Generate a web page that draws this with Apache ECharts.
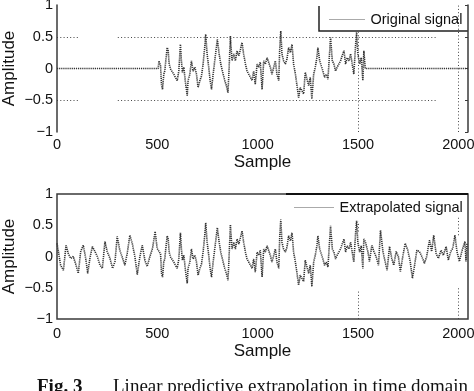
<!DOCTYPE html>
<html>
<head>
<meta charset="utf-8">
<script src="https://cdn.jsdelivr.net/npm/echarts@6/dist/echarts.min.js"></script>
<style>
html,body{margin:0;padding:0;background:#fff;}
#c{width:474px;height:391px;}
</style>
</head>
<body>
<div id="c"></div>
<script>
// ---- data ----
const xTickValues = [0, 500, 1000, 1500, 2000];
const yTickValues = [-1, -0.5, 0, 0.5, 1];
const yTickLabels = ['\u22121', '\u22120.5', '0', '0.5', '1'];

// segment of the signal shared by both plots (samples ~510..1535)
const midSamples = [508,516,521,526,532,537,542,549,554,559,566,574,582,590,599,607,615,620,625,632,640,649,653,662,670,678,687,695,703,712,720,728,736,741,748,756,763,770,778,786,794,799,808,816,828,836,844,852,857,864,872,881,889,897,906,914,922,930,939,947,955,964,972,980,988,997,1005,1013,1022,1030,1038,1047,1055,1063,1071,1080,1088,1096,1105,1110,1115,1121,1129,1138,1146,1154,1163,1171,1179,1188,1196,1204,1212,1221,1229,1237,1246,1254,1262,1270,1279,1287,1295,1300,1309,1317,1325,1333,1342,1350,1358,1363,1372,1380,1388,1396,1405,1413,1421,1430,1438,1446,1455,1463,1471,1479,1488,1493,1499,1508,1516,1524,1529];
const midValues  = [0.12,0.04,-0.27,-0.33,-0.09,-0.04,0.12,0.33,0.28,0.07,-0.01,0.02,-0.09,-0.14,-0.19,-0.04,0.38,0.12,-0.06,0.02,-0.22,-0.43,-0.19,-0.09,0.12,-0.04,0.02,-0.09,-0.30,-0.19,-0.12,0.07,0.33,0.54,0.23,0.02,-0.19,-0.33,-0.09,0.12,0.33,0.46,0.23,0.07,-0.09,-0.19,-0.27,-0.38,-0.04,0.51,0.12,0.23,0.12,0.28,0.20,0.30,0.41,0.23,0.07,-0.04,-0.01,-0.14,-0.19,-0.04,-0.25,0.07,0.02,0.10,-0.33,0.12,0.07,0.17,0.17,0.02,-0.09,0.02,0.12,-0.09,-0.19,0.33,0.59,0.23,0.12,0.07,0.15,0.33,0.25,0.38,0.07,-0.09,-0.27,-0.46,-0.30,-0.27,-0.40,-0.06,-0.04,-0.27,-0.14,-0.48,-0.09,0.02,0.17,0.33,0.12,0.04,-0.04,-0.14,-0.09,-0.17,0.23,0.49,0.12,0.07,-0.04,0.02,-0.01,0.12,0.20,0.28,0.07,0.17,0.12,0.23,0.07,-0.09,0.38,0.57,0.23,0.07,0.17,-0.19,0.28];

// original signal: zero outside the known segment
const origZeroBefore = [[0, 0], [504, 0]];
const origZeroAfter  = [[1536, 0], [2048, 0]];

// extrapolated parts of the bottom signal
const leftSamples = [0,7,18,32,45,56,68,81,95,106,118,131,143,153,164,176,189,201,214,226,239,250,264,277,289,300,313,327,338,350,363,375,388,400,413,425,438,449,463,476,489,499];
const leftValues  = [0.21,0.08,-0.14,-0.22,0.18,0.05,-0.03,0.00,-0.14,-0.27,0.08,0.18,-0.03,-0.27,-0.03,0.16,0.08,0.00,-0.14,-0.19,0.24,0.08,-0.03,-0.19,-0.08,0.32,0.10,-0.03,-0.14,0.05,0.34,0.21,0.00,-0.29,0.00,0.18,-0.06,-0.16,0.00,0.13,0.40,0.13];
const rightSamples = [1536,1549,1557,1569,1579,1590,1602,1612,1624,1635,1645,1657,1668,1678,1690,1701,1711,1723,1735,1748,1760,1771,1781,1793,1806,1818,1831,1842,1856,1867,1877,1889,1900,1914,1925,1939,1950,1962,1972,1983,1993,2005,2017,2025,2033,2038,2043];
const rightValues  = [0.24,0.08,-0.08,0.18,0.08,0.00,-0.14,0.42,0.08,-0.08,-0.22,0.16,-0.03,-0.14,0.08,0.00,-0.24,0.00,0.21,0.10,-0.08,-0.35,-0.16,0.10,0.08,0.00,-0.11,0.00,0.26,0.08,0.34,0.05,-0.03,0.10,0.02,0.16,-0.06,0.08,0.13,0.34,0.08,-0.08,0.08,0.16,0.24,-0.08,0.21];

// ---- build series data ----
function pairs(xs, ys) { return xs.map((x, i) => [x, ys[i]]); }
const midPairs = pairs(midSamples, midValues);
const topData = origZeroBefore.concat(midPairs, origZeroAfter);
const bottomData = pairs(leftSamples, leftValues).concat(midPairs, pairs(rightSamples, rightValues));

const FONT = 'Liberation Sans, Arial, Helvetica, sans-serif';
const AX = '#3a3a3a';
const sigStyle = { color: '#333', width: 1.6, type: [1.2, 0.9] };
const gridDot = { color: '#444', width: 1, type: [1, 2.3] };

function yLabel(v) {
  const i = yTickValues.findIndex(t => Math.abs(t - v) < 1e-9);
  return i >= 0 ? yTickLabels[i] : '';
}
function xLabel(v) {
  return xTickValues.indexOf(v) >= 0 ? String(v) : '';
}

function seg(x1, y1, x2, y2) { return [{ coord: [x1, y1] }, { coord: [x2, y2] }]; }

const legendCommon = {
  padding: 0, itemHeight: 14, itemGap: 5,
  textStyle: { fontFamily: FONT, fontSize: 14.5, color: '#111' },
  itemStyle: { opacity: 0 },
  lineStyle: { color: '#555', width: 1, type: [1, 1] }
};

function yTitle(cy) {
  return { type: 'text', x: 9.5, y: cy, rotation: Math.PI / 2,
    style: { text: 'Amplitude', font: '17px ' + FONT, fill: '#111', align: 'center', verticalAlign: 'middle' } };
}

const chart = echarts.init(document.getElementById('c'), null, { renderer: 'canvas' });
chart.setOption({
  animation: false,
  backgroundColor: '#fff',
  grid: [
    { left: 57, top: 5, width: 411, height: 127, containLabel: false, outerBoundsMode: 'none' },
    { left: 57, top: 194, width: 411, height: 125, containLabel: false, outerBoundsMode: 'none',
      show: true, borderColor: AX, borderWidth: 1.5 }
  ],
  legend: [
    Object.assign({ data: ['Original signal'], left: 329, top: 12, itemWidth: 36 }, legendCommon),
    Object.assign({ data: ['Extrapolated signal'], left: 294, top: 200, itemWidth: 40 }, legendCommon)
  ],
  xAxis: [
    { type: 'value', gridIndex: 0, min: 0, max: 2048, interval: 500,
      axisLine: { show: false }, axisTick: { show: false }, splitLine: { show: false },
      axisLabel: { formatter: xLabel, fontFamily: FONT, fontSize: 14.5, color: '#111', margin: 5 },
      name: 'Sample', nameLocation: 'middle', nameGap: 22,
      nameTextStyle: { fontFamily: FONT, fontSize: 17, color: '#111' } },
    { type: 'value', gridIndex: 1, min: 0, max: 2048, interval: 500,
      axisLine: { show: false }, axisTick: { show: false }, splitLine: { show: false },
      axisLabel: { formatter: xLabel, fontFamily: FONT, fontSize: 14.5, color: '#111', margin: 7 },
      name: 'Sample', nameLocation: 'middle', nameGap: 24,
      nameTextStyle: { fontFamily: FONT, fontSize: 17, color: '#111' } }
  ],
  yAxis: [
    { type: 'value', gridIndex: 0, min: -1, max: 1, interval: 0.5,
      axisLine: { show: true, lineStyle: { color: AX, width: 1.5 } }, axisTick: { show: false },
      splitLine: { show: false },
      axisLabel: { formatter: yLabel, fontFamily: FONT, fontSize: 14.5, color: '#111', margin: 4 } },
    { type: 'value', gridIndex: 0, position: 'right', min: -1, max: 1, interval: 0.5,
      axisLine: { show: true, lineStyle: { color: AX, width: 1.5 } },
      axisTick: { show: true, inside: true, length: 3, lineStyle: { color: AX } },
      axisLabel: { show: false }, splitLine: { show: false } },
    { type: 'value', gridIndex: 1, min: -1, max: 1, interval: 0.5,
      axisLine: { show: false }, axisTick: { show: false }, splitLine: { show: false },
      axisLabel: { formatter: yLabel, fontFamily: FONT, fontSize: 14.5, color: '#111', margin: 4 } }
  ],
  series: [
    { name: 'Original signal', type: 'line', xAxisIndex: 0, yAxisIndex: 0, data: topData,
      symbol: 'none', lineStyle: sigStyle, itemStyle: { color: '#555' },
      markLine: { silent: true, symbol: 'none', label: { show: false }, lineStyle: gridDot,
        data: [seg(0, 0.5, 114, 0.5), seg(303, 0.5, 1890, 0.5),
               seg(0, -0.5, 114, -0.5), seg(303, -0.5, 1890, -0.5),
               seg(1500, -1, 1500, 0.57), seg(2000, -1, 2000, 1)] } },
    { name: 'Extrapolated signal', type: 'line', xAxisIndex: 1, yAxisIndex: 2, data: bottomData,
      symbol: 'none', lineStyle: sigStyle, itemStyle: { color: '#555' },
      markLine: { silent: true, symbol: 'none', label: { show: false }, lineStyle: gridDot,
        data: [seg(1500, -1, 1500, -0.56), seg(1500, 0.40, 1500, 0.56),
               seg(2000, -1, 2000, -0.49), seg(2000, 0.34, 2000, 0.62)] } }
  ],
  graphic: [
    yTitle(68.5),
    yTitle(256.5),
    { type: 'polyline', shape: { points: [[319, 6], [319, 31], [468, 31]] }, style: { stroke: '#222', lineWidth: 1.5, fill: null } },
    { type: 'line', shape: { x1: 286, y1: 194, x2: 468, y2: 194 }, style: { stroke: '#111', lineWidth: 2 } },
    { type: 'text', left: 37, top: 378, style: { text: 'Fig. 3', font: 'bold 19px "Liberation Serif", "Times New Roman", serif', fill: '#111' } },
    { type: 'text', left: 113, top: 378, style: { text: 'Linear predictive extrapolation in time domain', font: '19px "Liberation Serif", "Times New Roman", serif', fill: '#111' } }
  ]
});
</script>
</body>
</html>
